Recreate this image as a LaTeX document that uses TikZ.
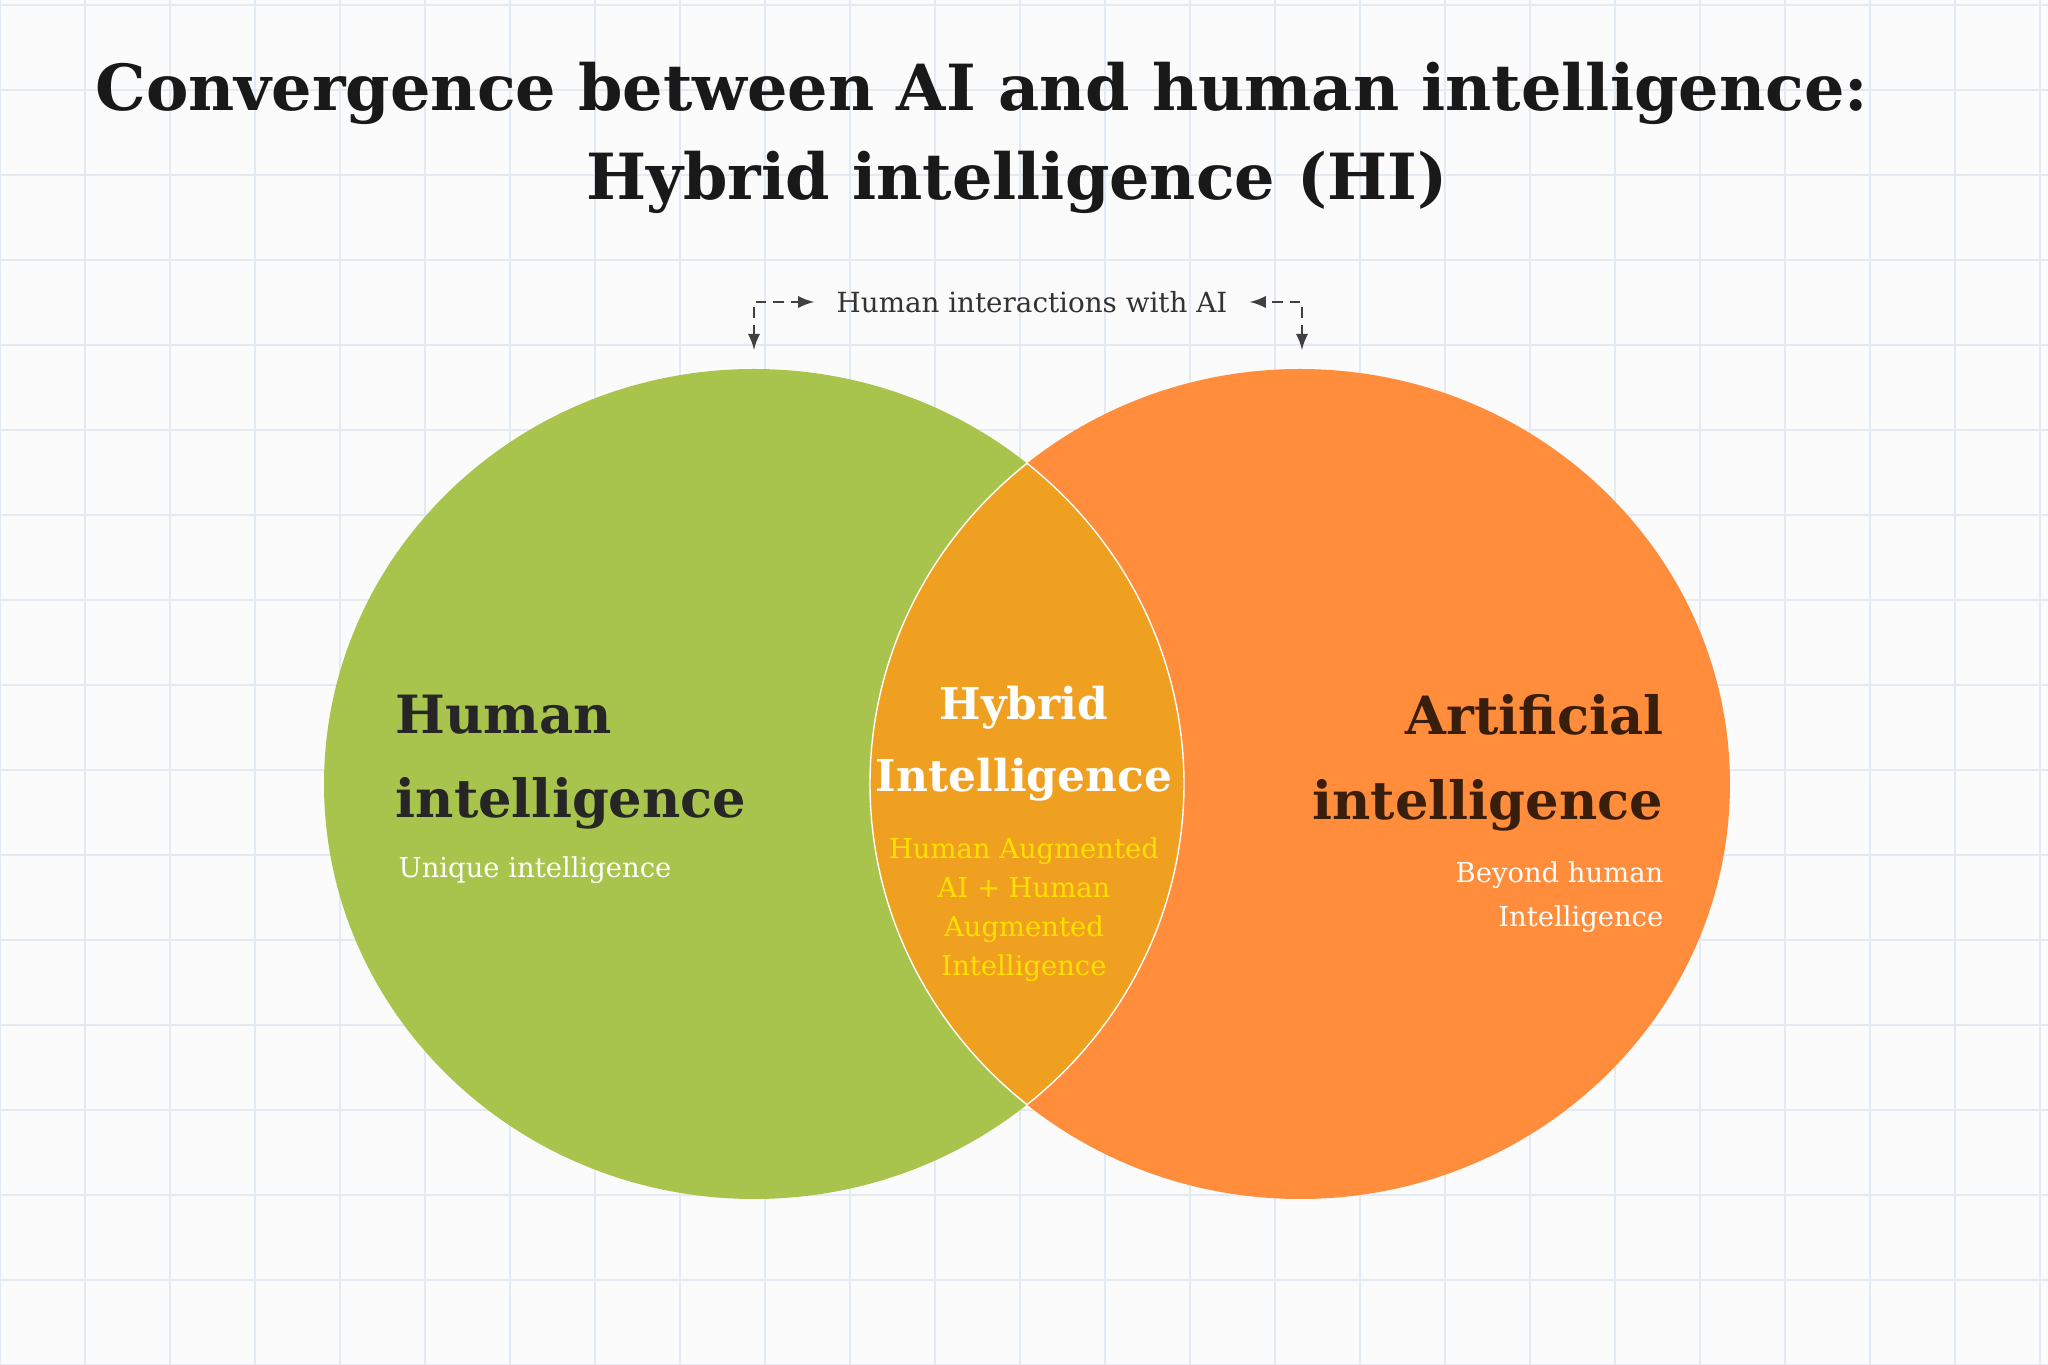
\documentclass[tikz,border=0pt]{standalone}
\usepackage{fontspec}
\setmainfont{DejaVu Serif}
\usetikzlibrary{positioning}
\definecolor{humgreen}{HTML}{A9C44C}
\definecolor{aiorange}{HTML}{FF8D3C}
\definecolor{hybmix}{HTML}{F0A020}
\definecolor{hybtext}{HTML}{FFE000}
\definecolor{gridblue}{HTML}{E4EAF2}
\definecolor{aibrown}{HTML}{3A1E0C}
\begin{document}
\begin{tikzpicture}
[title/.style={font=\bfseries\fontsize{18.1}{21}\selectfont,text=black!90,anchor=base},
head/.style={font=\bfseries\fontsize{15}{24}\selectfont,inner sep=0pt},
sub/.style={font=\fontsize{7.8}{12.6}\selectfont,text=white,inner sep=0pt},
mix/.style={font=\fontsize{7.8}{11.1}\selectfont,text=hybtext,align=center,inner sep=0pt},
link/.style={densely dashed,black!75,semithick,-latex}]
\useasboundingbox (0,0) rectangle (20.48,13.65);
\fill[white!97!gray] (0,0) rectangle (20.48,13.65);
\draw[gridblue,step=0.85] (0,0) grid (20.48,13.65);
% circles
\fill[humgreen] (7.54,5.81) ellipse (4.30 and 4.15);
\fill[aiorange] (13.0,5.81) ellipse (4.30 and 4.15);
\begin{scope}
\clip (7.54,5.81) ellipse (4.30 and 4.15);
\fill[hybmix] (13.0,5.81) ellipse (4.30 and 4.15);
\draw[white,thin] (13.0,5.81) ellipse (4.30 and 4.15);
\end{scope}
\begin{scope}
\clip (13.0,5.81) ellipse (4.30 and 4.15);
\draw[white,thin] (7.54,5.81) ellipse (4.30 and 4.15);
\end{scope}
% title
\node[title] (t1) at (9.82,12.54) {Convergence between AI and human intelligence:};
\node[title] (t2) at (10.17,11.65) {Hybrid intelligence (HI)};
% interactions
\node[font=\fontsize{7.9}{10}\selectfont,text=black!80] (inter) at (10.32,10.63) {Human interactions with AI};
\coordinate (hl) at (7.54,10.15);
\coordinate (hr) at (13.02,10.15);
\coordinate (il) at ([xshift=-0.1cm]inter.west);
\coordinate (ir) at ([xshift=0.1cm]inter.east);
\draw[link,latex-latex] (hl) |- (il);
\draw[link,latex-latex] (hr) |- (ir);
% labels
\node[head,text=black!85,align=left,anchor=north west] (hum) at (3.95,6.71) {Human\\intelligence};
\node[sub,anchor=base west] (humsub) at (3.98,4.87) {Unique intelligence};
\node[head,font=\bfseries\fontsize{12.5}{20.5}\selectfont,text=white,align=center,anchor=north] (hyb) at (10.24,6.80) {Hybrid\\Intelligence};
\node[mix,anchor=north] (hybsub) at (10.24,5.28) {Human Augmented\\AI + Human\\Augmented\\Intelligence};
\node[head,text=aibrown,align=right,anchor=north east] (art) at (16.64,6.71) {Artificial\\intelligence};
\node[sub,align=right,anchor=north east] (artsub) at (16.64,5.04) {Beyond human\\Intelligence};
\end{tikzpicture}
\end{document}
